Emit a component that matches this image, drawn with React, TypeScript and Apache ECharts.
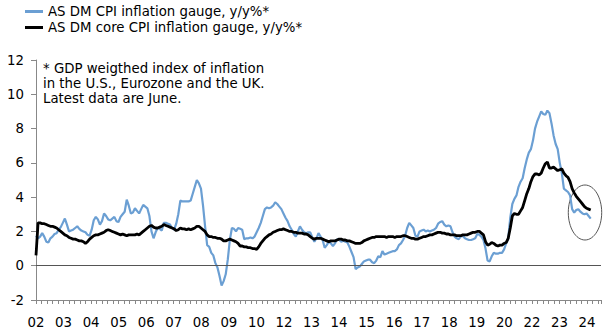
import React, { useEffect, useRef } from "react";
import * as echarts from "echarts";

// Monthly values, Jan 2002 .. Jun 2024 (index 0 = Jan 2002)
const cpi: number[] = [
  // 2002
  1.75, 1.6, 1.7, 1.9, 1.7, 1.4, 1.35, 1.6, 1.7, 1.85, 1.9, 2.1,
  // 2003
  2.25, 2.5, 2.75, 2.4, 2.0, 2.05, 2.1, 2.2, 2.3, 2.15, 2.05, 2.0,
  // 2004
  1.95, 1.8, 1.75, 2.1, 2.65, 2.85, 2.7, 2.4, 2.6, 3.05, 2.9, 2.7,
  // 2005
  2.65, 2.75, 2.85, 2.6, 2.55, 2.85, 3.0, 3.15, 3.85, 3.5, 3.05, 3.1,
  // 2006
  3.35, 3.2, 3.05, 3.3, 3.55, 3.45, 3.35, 2.9, 2.0, 1.6, 1.95, 2.2,
  // 2007
  2.15, 2.05, 2.5, 2.5, 2.45, 2.4, 2.2, 2.1, 2.45, 3.0, 3.8, 3.75,
  // 2008
  3.75, 3.75, 3.75, 3.8, 4.2, 4.6, 5.0, 4.8, 4.5, 3.5, 2.3, 1.2,
  // 2009
  1.1, 0.75, 0.6, 0.15, -0.1, -0.6, -1.15, -0.9, -0.5, 0.35, 1.5, 2.2,
  // 2010
  2.15, 2.0, 2.2, 2.15, 2.1, 1.55, 1.6, 1.6, 1.65, 1.6, 1.7, 1.95,
  // 2011
  2.2, 2.5, 2.9, 3.3, 3.4, 3.35, 3.4, 3.5, 3.7, 3.6, 3.45, 3.3,
  // 2012
  3.05, 2.8, 2.6, 2.3, 2.1, 1.85, 1.7, 2.0, 2.3, 2.1, 1.95, 1.9,
  // 2013
  1.95, 1.95, 1.65, 1.4, 1.6, 1.9, 1.7, 1.5, 1.05, 1.2, 1.4, 1.3,
  // 2014
  1.15, 1.3, 1.55, 1.5, 1.4, 1.45, 1.4, 1.35, 1.1, 0.8, 0.5, -0.2,
  // 2015
  -0.1, -0.05, 0.1, 0.25, 0.3, 0.35, 0.35, 0.2, 0.15, 0.3, 0.55, 0.5,
  // 2016
  0.85, 0.65, 0.7, 0.75, 0.8, 0.85, 0.85, 0.95, 1.2, 1.3, 1.5, 1.75,
  // 2017
  2.2, 2.5, 2.35, 2.2, 1.75, 1.7, 2.0, 2.05, 2.1, 2.0, 2.05, 2.0,
  // 2018
  2.05, 2.1, 2.2, 2.45, 2.55, 2.6, 2.4, 2.3, 2.35, 2.3, 1.95, 1.7,
  // 2019
  1.6, 1.55, 1.7, 1.75, 1.6, 1.55, 1.5, 1.5, 1.55, 1.6, 1.85, 1.8,
  // 2020
  1.7, 1.5, 1.0, 0.3, 0.25, 0.55, 0.75, 0.7, 0.7, 0.75, 0.75, 0.95,
  // 2021
  1.3, 1.6, 2.8, 3.6, 3.9, 4.1, 4.6, 4.9, 5.1, 5.7, 6.2, 6.6,
  // 2022
  6.8, 7.3, 8.0, 8.4, 8.7, 9.0, 8.85, 8.8, 9.05, 8.9, 8.3, 7.6,
  // 2023
  7.1, 6.8, 6.0, 5.4, 4.5, 4.4, 4.3, 4.1, 3.3, 3.1, 3.25, 3.3,
  // 2024
  3.15, 3.05, 3.0, 3.05, 2.9, 2.75,
];

const core: number[] = [
  // 2002
  0.6, 2.5, 2.5, 2.45, 2.45, 2.4, 2.35, 2.3, 2.3, 2.25, 2.2, 2.1,
  // 2003
  2.0, 1.9, 1.8, 1.75, 1.65, 1.6, 1.55, 1.55, 1.5, 1.45, 1.45, 1.4,
  // 2004
  1.3, 1.4, 1.55, 1.65, 1.75, 1.8, 1.8, 1.85, 1.9, 1.95, 2.05, 2.1,
  // 2005
  2.05, 2.0, 1.95, 1.9, 1.85, 1.8, 1.85, 1.8, 1.75, 1.8, 1.8, 1.8,
  // 2006
  1.8, 1.85, 1.8, 1.9, 2.0, 2.1, 2.2, 2.3, 2.35, 2.25, 2.2, 2.2,
  // 2007
  2.25, 2.3, 2.4, 2.35, 2.3, 2.25, 2.2, 2.15, 2.05, 2.1, 2.2, 2.15,
  // 2008
  2.15, 2.1, 2.15, 2.1, 2.15, 2.2, 2.3, 2.3, 2.2, 2.1, 2.0, 1.8,
  // 2009
  1.7, 1.7, 1.65, 1.65, 1.6, 1.6, 1.55, 1.45, 1.45, 1.5, 1.55, 1.5,
  // 2010
  1.45, 1.4, 1.3, 1.15, 1.15, 1.1, 1.1, 1.05, 1.05, 1.0, 1.0, 0.95,
  // 2011
  1.1, 1.3, 1.45, 1.6, 1.7, 1.8, 1.85, 1.95, 2.0, 2.05, 2.1, 2.1,
  // 2012
  2.15, 2.1, 2.05, 2.0, 2.0, 1.95, 1.95, 1.9, 1.9, 1.9, 1.85, 1.85,
  // 2013
  1.8, 1.7, 1.6, 1.55, 1.6, 1.6, 1.6, 1.55, 1.5, 1.45, 1.4, 1.45,
  // 2014
  1.45, 1.45, 1.5, 1.55, 1.55, 1.5, 1.5, 1.45, 1.45, 1.4, 1.35, 1.3,
  // 2015
  1.3, 1.3, 1.35, 1.45, 1.5, 1.55, 1.6, 1.65, 1.65, 1.7, 1.7, 1.7,
  // 2016
  1.7, 1.7, 1.65, 1.7, 1.7, 1.7, 1.65, 1.7, 1.7, 1.7, 1.75, 1.75,
  // 2017
  1.7, 1.65, 1.6, 1.6, 1.55, 1.55, 1.6, 1.65, 1.7, 1.7, 1.75, 1.8,
  // 2018
  1.8, 1.85, 1.9, 1.95, 1.95, 1.9, 1.9, 1.85, 1.85, 1.8, 1.8, 1.8,
  // 2019
  1.75, 1.75, 1.75, 1.8, 1.8, 1.8, 1.85, 1.9, 1.95, 1.95, 2.0, 2.0,
  // 2020
  1.9, 1.8, 1.4, 1.2, 1.25, 1.35, 1.3, 1.2, 1.15, 1.2, 1.2, 1.3,
  // 2021
  1.35, 1.6, 2.2, 2.9, 3.05, 3.0, 3.0, 3.2, 3.4, 3.8, 4.2, 4.5,
  // 2022
  4.9, 5.2, 5.35, 5.35, 5.3, 5.4, 5.7, 5.95, 6.05, 5.7, 5.7, 5.75,
  // 2023
  5.65, 5.55, 5.6, 5.65, 5.4, 5.25, 5.15, 4.9, 4.5, 4.25, 4.05, 3.9,
  // 2024
  3.75, 3.6, 3.45, 3.35, 3.3, 3.25,
];

const xTickLabels: string[] = [
  "02", "03", "04", "05", "06", "07", "08", "09", "10", "12", "13",
  "14", "15", "16", "17", "18", "19", "20", "22", "23", "24",
];

const seriesNames: string[] = [
  "AS DM CPI inflation gauge, y/y%*",
  "AS DM core CPI inflation gauge, y/y%*",
];

const noteLines: string[] = [
  "* GDP weigthed index of inflation",
  "in the U.S., Eurozone and the UK.",
  "Latest data are June.",
];

const FONT = "DejaVu Sans";
const LABEL_STEP = 13.36;

export default function App() {
  const ref = useRef<HTMLDivElement>(null);

  useEffect(() => {
    if (!ref.current) return;
    const chart = echarts.init(ref.current, undefined, { renderer: "svg" });
    const cpiData = cpi.map((v, i) => [i, v]);
    const coreData = core.map((v, i) => [i, v]);

    chart.setOption({
      animation: false,
      backgroundColor: "#ffffff",
      textStyle: { fontFamily: FONT },
      legend: {
        orient: "vertical",
        left: 20,
        top: 0,
        itemWidth: 18,
        itemHeight: 3,
        itemGap: 3,
        icon: "rect",
        textStyle: { fontFamily: FONT, fontSize: 13.3, color: "#000" },
        data: [
          { name: seriesNames[0], itemStyle: { color: "#6b9fd3" } },
          { name: seriesNames[1], itemStyle: { color: "#000000" } },
        ],
      },
      grid: { left: 36, right: 11, top: 60, bottom: 36, containLabel: false },
      xAxis: {
        type: "value",
        min: 0,
        max: 274,
        interval: LABEL_STEP,
        splitLine: { show: false },
        axisLine: { onZero: false, lineStyle: { color: "#888", width: 1 } },
        axisTick: { show: true, length: 4, lineStyle: { color: "#888" } },
        minorTick: { show: true, splitNumber: 5, length: 4, lineStyle: { color: "#888" } },
        minorSplitLine: { show: false },
        axisLabel: {
          margin: 16,
          fontFamily: FONT,
          fontSize: 13.3,
          color: "#000",
          showMinLabel: true,
          showMaxLabel: true,
          formatter: (v: number) => {
            const k = Math.round(v / LABEL_STEP);
            if (Math.abs(v - k * LABEL_STEP) > 0.01) return "";
            return xTickLabels[k] ?? "";
          },
        },
      },
      yAxis: {
        type: "value",
        min: -2,
        max: 12,
        interval: 2,
        splitLine: { show: false },
        axisLine: { show: true, lineStyle: { color: "#888", width: 1 } },
        axisTick: { show: true, length: 5, lineStyle: { color: "#888" } },
        axisLabel: { margin: 12, fontFamily: FONT, fontSize: 13.3, color: "#000" },
      },
      series: [
        {
          name: seriesNames[0],
          type: "line",
          data: cpiData,
          showSymbol: false,
          symbol: "none",
          lineStyle: { color: "#6b9fd3", width: 2.2 },
          itemStyle: { color: "#6b9fd3" },
          z: 2,
          markLine: {
            silent: true,
            symbol: "none",
            label: { show: false },
            lineStyle: { color: "#555", width: 1, type: "solid" },
            data: [{ yAxis: 0 }],
          },
        },
        {
          name: seriesNames[1],
          type: "line",
          data: coreData,
          showSymbol: false,
          symbol: "none",
          lineStyle: { color: "#000000", width: 2.8 },
          itemStyle: { color: "#000000" },
          z: 3,
        },
      ],
      graphic: [
        {
          type: "text",
          left: 43,
          top: 61,
          style: {
            text: noteLines.join("\n"),
            fontFamily: FONT,
            fontSize: 13.3,
            lineHeight: 15,
            fill: "#000",
          },
        },
        {
          type: "ellipse",
          shape: { cx: 585, cy: 212.5, rx: 16.7, ry: 27.5 },
          style: { fill: "none", stroke: "#444", lineWidth: 0.9 },
          silent: true,
        },
      ],
    });
    return () => chart.dispose();
  }, []);

  return (
    <div
      ref={ref}
      style={{ position: "absolute", left: 0, top: 0, width: 612, height: 336 }}
    />
  );
}
